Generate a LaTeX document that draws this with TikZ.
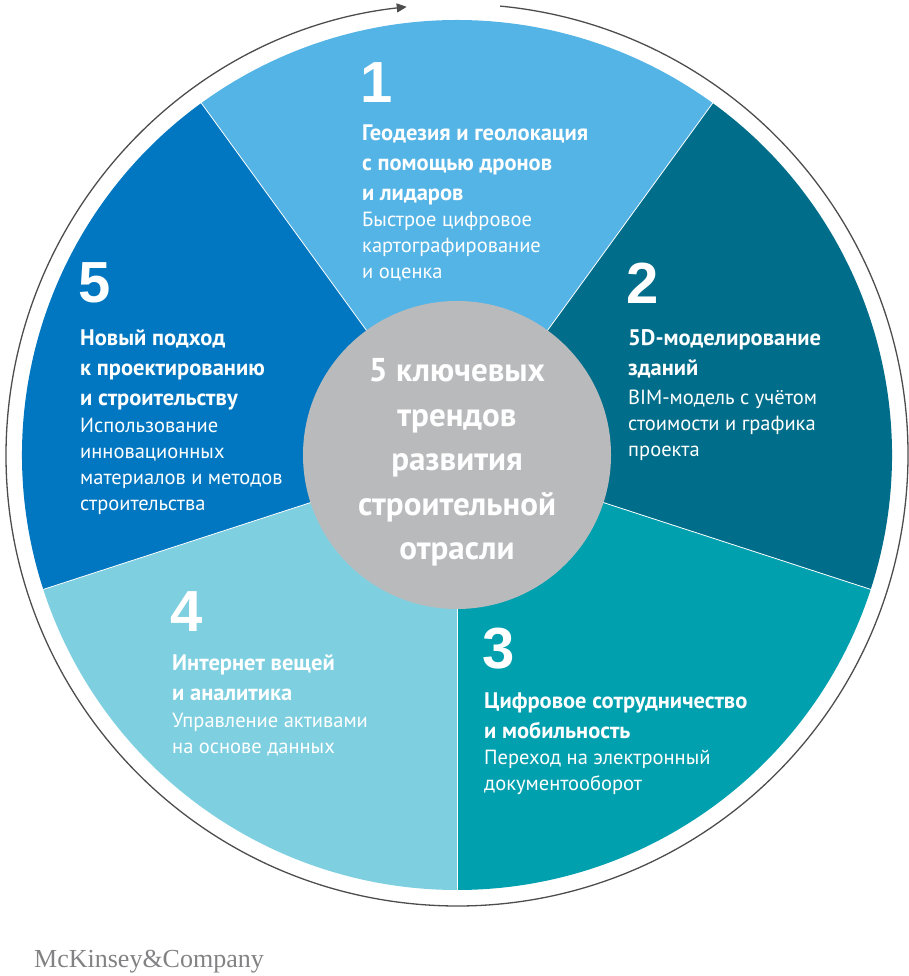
\documentclass[tikz,border=0pt]{standalone}
\usepackage{fontspec}
\setmainfont{PT Sans}
\newfontfamily\digitfont{Liberation Sans}
\newfontfamily\mckfont{Liberation Serif}
\usetikzlibrary{arrows.meta}
\definecolor{cA}{HTML}{55B4E6}
\definecolor{cB}{HTML}{006E8A}
\definecolor{cC}{HTML}{00A0AF}
\definecolor{cD}{HTML}{7ECFE0}
\definecolor{cE}{HTML}{0077C0}
\definecolor{cG}{HTML}{B9BABC}
\definecolor{cR}{HTML}{4D4D4F}
\tikzset{
 num/.style={anchor=west,text=white,inner sep=0pt,font=\digitfont\bfseries\fontsize{58}{58}\selectfont},
 head/.style={anchor=base west,text=white,inner sep=0pt,align=left,font=\bfseries\fontsize{22.5}{30}\selectfont},
 sub/.style={anchor=base west,text=white,inner sep=0pt,align=left,font=\fontsize{20.5}{26}\selectfont},
}
\begin{document}
\begin{tikzpicture}[x=1pt,y=1pt]
\useasboundingbox (0,0) rectangle (908,976);
\coordinate (c) at (457,521);
\fill[cA] (c) -- ++(126:435) arc[start angle=126,end angle=54,radius=435] -- cycle;
\fill[cB] (c) -- ++(54:435) arc[start angle=54,end angle=-18,radius=435] -- cycle;
\fill[cC] (c) -- ++(-18:435) arc[start angle=-18,end angle=-90,radius=435] -- cycle;
\fill[cD] (c) -- ++(-90:435) arc[start angle=-90,end angle=-162,radius=435] -- cycle;
\fill[cE] (c) -- ++(-162:435) arc[start angle=-162,end angle=-234,radius=435] -- cycle;
\foreach \a in {54,126,198,270,342} \draw[white,line width=0.8pt] (c) -- ++(\a:435);
\node[circle,fill=cG,minimum size=308pt,inner sep=0pt] (mid) at (c) {};
\draw[cR,line width=1.3pt,-{Triangle[length=10pt,width=9pt]}] (c) ++(84.5:451) arc[start angle=84.5,end angle=-263.6,radius=451];
\node[anchor=base,text=white,align=center,inner sep=0pt,font=\bfseries\fontsize{33}{44.5}\selectfont] (title) at (457,416) {5 ключевых\\трендов\\развития\\строительной\\отрасли};
% 1
\node[num] (n1) at (360,893) {1};
\node[head] (h1) at (362,775) {Геодезия и геолокация\\с помощью дронов\\и лидаров};
\node[sub] (s1) at (362,697) {Быстрое цифровое\\картографирование\\и оценка};
% 2
\node[num] (n2) at (626,693) {2};
\node[head] (h2) at (628,600) {5D-моделирование\\зданий};
\node[sub] (s2) at (628,519) {BIM-модель с учётом\\стоимости и графика\\проекта};
% 3
\node[num] (n3) at (482,327) {3};
\node[head] (h3) at (484,237) {Цифровое сотрудничество\\и мобильность};
\node[sub] (s3) at (484,185) {Переход на электронный\\документооборот};
% 4
\node[num] (n4) at (170,364) {4};
\node[head] (h4) at (172,275) {Интернет вещей\\и аналитика};
\node[sub] (s4) at (172,222) {Управление активами\\на основе данных};
% 5
\node[num] (n5) at (78,693) {5};
\node[head] (h5) at (80,570) {Новый подход\\к проектированию\\и строительству};
\node[sub] (s5) at (80,465) {Использование\\инновационных\\материалов и методов\\строительства};
\node[anchor=west,text=cR!70,inner sep=0pt,font=\mckfont\fontsize{26}{26}\selectfont] (mck) at (34,14) {McKinsey\&Company};
\end{tikzpicture}
\end{document}
